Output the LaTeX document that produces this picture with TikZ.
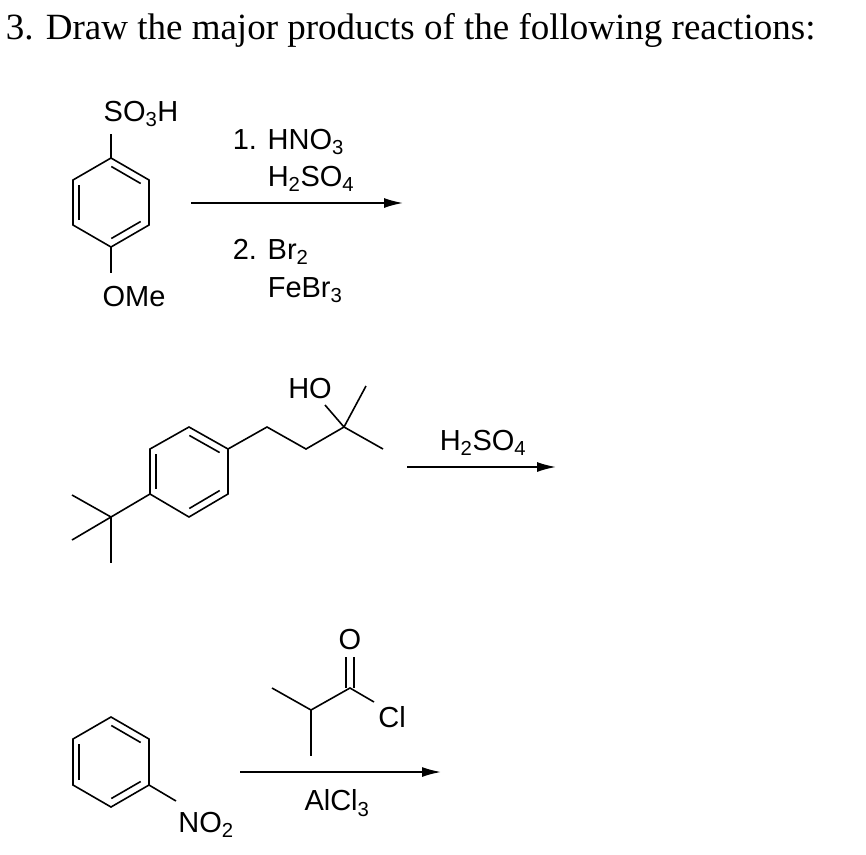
\documentclass[tikz,border=0pt]{standalone}
\usepackage{fontspec}
\setmainfont{Liberation Serif}
\newfontfamily\lab{Liberation Sans}
\usetikzlibrary{arrows.meta}
\begin{document}
\begin{tikzpicture}[x=1pt,y=-1pt,line width=1.6pt,
  lbl/.style={font=\lab\fontsize{29}{32}\selectfont,inner sep=0pt},
  rxn/.style={-{Latex[length=19pt,width=10pt]},line width=1.6pt},
  dbl/.style={shorten >=5pt,shorten <=5pt}]
\useasboundingbox (0,0) rectangle (866,854);
\fill[white] (0,0) rectangle (866,854);
\node[anchor=west,inner sep=0pt,font=\fontsize{37}{40}\selectfont] (title) at (5,30) {3. Draw the major products of the following reactions:};
% molecule 1
\coordinate (a1) at (111,158); \coordinate (a2) at (149,180); \coordinate (a3) at (149,225);
\coordinate (a4) at (111,247); \coordinate (a5) at (73,225); \coordinate (a6) at (73,180);
\draw (a1)--(a2)--(a3)--(a4)--(a5)--(a6)--cycle;
\draw[dbl] ([shift={(-4,6)}]a1) -- ([shift={(-4,6)}]a2);
\draw[dbl] ([shift={(6,0)}]a5) -- ([shift={(6,0)}]a6);
\draw[dbl] ([shift={(-4,-6)}]a3) -- ([shift={(-4,-6)}]a4);
\node[lbl] (so3h) at (141,114) {SO\textsubscript{3}H};
\node[lbl] (ome) at (134,297) {OMe};
\draw (a1) -- (111,134);
\draw (a4) -- (111,273);
\coordinate (r1s) at (191,203); \coordinate (r1e) at (403,203);
\draw[rxn] (r1s) -- (r1e);
\node[lbl,anchor=west] (c1) at (232,142) {1. HNO\textsubscript{3}};
\node[lbl,anchor=west] (c2) at (267,179) {H\textsubscript{2}SO\textsubscript{4}};
\node[lbl,anchor=west] (c3) at (232,252) {2. Br\textsubscript{2}};
\node[lbl,anchor=west] (c4) at (267,290) {FeBr\textsubscript{3}};
% molecule 2
\coordinate (b1) at (189,427); \coordinate (b2) at (228,449); \coordinate (b3) at (228,494);
\coordinate (b4) at (189,517); \coordinate (b5) at (150,494); \coordinate (b6) at (150,449);
\draw (b1)--(b2)--(b3)--(b4)--(b5)--(b6)--cycle;
\draw[dbl] ([shift={(-4,6)}]b1) -- ([shift={(-4,6)}]b2);
\draw[dbl] ([shift={(6,0)}]b5) -- ([shift={(6,0)}]b6);
\draw[dbl] ([shift={(-4,-6)}]b3) -- ([shift={(-4,-6)}]b4);
\coordinate (c1p) at (267,427); \coordinate (c2p) at (306,449); \coordinate (cq) at (344,427);
\draw (b2)--(c1p)--(c2p)--(cq)--(383,449);
\draw (cq)--(366,386);
\node[lbl] (ho) at (310,389) {HO};
\draw (cq)--(325,405);
\coordinate (t0) at (111,517);
\draw (b5)--(t0)--(72,495); \draw (t0)--(72,540); \draw (t0)--(111,563);
\draw[rxn] (407,467) -- (556,467);
\node[lbl] (h2so4) at (483,443) {H\textsubscript{2}SO\textsubscript{4}};
% molecule 3
\coordinate (d1) at (111,717); \coordinate (d2) at (149,739); \coordinate (d3) at (149,785);
\coordinate (d4) at (111,807); \coordinate (d5) at (73,785); \coordinate (d6) at (73,739);
\draw (d1)--(d2)--(d3)--(d4)--(d5)--(d6)--cycle;
\draw[dbl] ([shift={(-4,6)}]d1) -- ([shift={(-4,6)}]d2);
\draw[dbl] ([shift={(6,0)}]d5) -- ([shift={(6,0)}]d6);
\draw[dbl] ([shift={(-4,-6)}]d3) -- ([shift={(-4,-6)}]d4);
\draw (d3)--(176,801);
\node[lbl] (no2) at (206,825) {NO\textsubscript{2}};
\coordinate (e1) at (272,688); \coordinate (e2) at (311,710); \coordinate (e3) at (350,688);
\draw (e1)--(e2)--(e3)--(374,702);
\draw (e2)--(311,756);
\draw (346,688)--(346,657); \draw (354,688)--(354,657);
\node[lbl] (o) at (350,640) {O};
\node[lbl] (cl) at (392,717) {Cl};
\draw[rxn] (240,772) -- (441,772);
\node[lbl] (alcl) at (337,803) {AlCl\textsubscript{3}};
\end{tikzpicture}
\end{document}
